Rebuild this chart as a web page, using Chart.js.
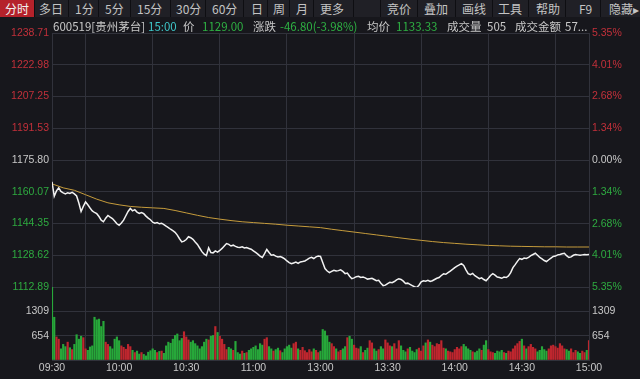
<!DOCTYPE html>
<html><head><meta charset="utf-8">
<script src="https://cdn.jsdelivr.net/npm/chart.js@4/dist/chart.umd.min.js"></script>
<style>
html,body{margin:0;padding:0;background:#17171c;width:640px;height:379px;overflow:hidden;}
#wrap{position:relative;width:640px;height:379px;}
canvas{position:absolute;left:0;top:0;}
#bar1{position:absolute;left:0;top:0;width:640px;height:17px;background:#202026;font-family:"Noto Sans CJK SC",sans-serif;font-size:12px;color:#c4c4c4;}
#bar1 span{position:absolute;top:0;line-height:17px;white-space:nowrap;}
#bar1 i{position:absolute;top:0;width:1px;height:17px;background:#0e0e12;}
#bar2{position:absolute;left:0;top:17px;width:640px;height:16px;font-family:"Noto Sans CJK SC",sans-serif;font-size:11.5px;color:#c8c8c8;}
#bar2 span{position:absolute;top:0;line-height:18px;white-space:nowrap;}
.g{color:#2eb043;} .c{color:#3ec6c8;}
</style></head>
<body><div id="wrap">
<canvas id="c" width="640" height="379"></canvas>
<div id="bar1">
<span style="left:0;width:34px;background:#b5222b;color:#f2f2f2;text-align:center;">分时</span>
<i style="left:34px"></i><span style="left:39px">多日</span>
<i style="left:68px"></i><span style="left:75px">1分</span>
<i style="left:98px"></i><span style="left:105px">5分</span>
<i style="left:130px"></i><span style="left:137px">15分</span>
<i style="left:170px"></i><span style="left:176px">30分</span>
<i style="left:205px"></i><span style="left:212px">60分</span>
<i style="left:243px"></i><span style="left:251px">日</span>
<i style="left:267px"></i><span style="left:273px">周</span>
<i style="left:289px"></i><span style="left:296px">月</span>
<i style="left:313px"></i><span style="left:320px">更多</span>
<i style="left:353px"></i>
<i style="left:380px"></i><span style="left:387px">竞价</span>
<i style="left:417px"></i><span style="left:424px">叠加</span>
<i style="left:455px"></i><span style="left:462px">画线</span>
<i style="left:492px"></i><span style="left:498px">工具</span>
<i style="left:528px"></i><span style="left:536px">帮助</span>
<i style="left:565px"></i><span style="left:579px">F9</span>
<i style="left:600px"></i><span style="left:609px">隐藏▸</span>
</div>
<div id="bar2">
<span style="left:53px">600519[贵州茅台]</span>
<span class="c" style="left:148px">15:00</span>
<span style="left:183px">价</span>
<span class="g" style="left:202px">1129.00</span>
<span style="left:253px">涨跌</span>
<span class="g" style="left:280px">-46.80(-3.98%)</span>
<span style="left:367px">均价</span>
<span class="g" style="left:396px">1133.33</span>
<span style="left:447px">成交量</span>
<span style="left:487px">505</span>
<span style="left:515px">成交金额</span>
<span style="left:565px">57...</span>
</div>
</div>
<script>
const prevClose = 1175.80;
const timeLabels = ['09:30','10:00','10:30','11:00','13:00','13:30','14:00','14:30','15:00'];
const timeTicks = [0,30,60,90,120,150,180,210,240];
const priceTicks = [1112.89,1128.62,1144.35,1160.07,1175.80,1191.53,1207.25,1222.98,1238.71];
const pctTicks = [-5.35,-4.01,-2.68,-1.34,0,1.34,2.68,4.01,5.35];
const volTicks = [0,654,1309,1963];
const volLabelled = [654,1309];

// minute-by-minute last price (09:30..11:30, 13:00..15:00)
const price = [
1165.0,1157.8,1160.5,1162.0,1160.2,1159.5,1159.0,1159.6,1159.2,1159.8,
1159.0,1158.0,1154.5,1150.3,1152.8,1155.0,1153.6,1152.0,1150.6,1149.8,
1149.2,1147.8,1146.0,1145.2,1147.0,1148.3,1147.5,1146.8,1145.6,1144.2,
1143.5,1144.6,1146.0,1148.2,1150.3,1151.8,1150.6,1151.2,1150.0,1149.3,
1149.8,1149.2,1148.0,1147.0,1146.2,1145.0,1144.5,1144.8,1144.2,1144.5,
1143.8,1143.0,1142.3,1141.5,1140.8,1140.0,1138.6,1136.8,1135.2,1135.6,
1136.4,1137.8,1137.3,1136.5,1135.2,1134.0,1132.2,1130.4,1129.2,1128.5,
1132.3,1130.0,1129.8,1130.8,1130.2,1131.0,1132.0,1133.2,1134.4,1134.0,
1133.2,1133.6,1133.0,1132.6,1132.5,1132.8,1132.2,1132.4,1132.0,1131.6,
1130.8,1130.0,1129.2,1128.2,1127.5,1129.4,1131.5,1130.0,1128.6,1128.8,
1128.2,1127.8,1128.0,1127.5,1126.8,1125.8,1125.0,1124.4,1124.8,1125.2,
1124.6,1125.3,1125.5,1125.8,1126.4,1127.2,1127.6,1127.0,1127.8,1128.2,
1128.0,1125.0,1122.0,1120.8,1120.0,1120.6,1121.2,1120.8,1121.0,1121.4,
1120.6,1119.5,1119.8,1118.2,1117.0,1117.4,1118.0,1118.2,1117.6,1117.8,
1117.4,1116.8,1117.0,1117.2,1116.6,1116.0,1116.2,1114.8,1113.6,1113.8,
1114.6,1115.2,1115.0,1115.6,1116.4,1117.0,1116.6,1115.8,1114.6,1114.8,
1114.2,1113.6,1113.0,1112.6,1113.8,1115.4,1116.0,1115.8,1116.2,1115.6,
1116.0,1116.6,1117.2,1117.6,1118.6,1119.4,1119.2,1120.0,1120.8,1121.6,
1122.5,1123.2,1123.8,1124.5,1123.6,1121.4,1119.5,1119.0,1119.6,1118.5,
1117.8,1117.0,1117.4,1116.6,1116.0,1117.2,1118.6,1119.5,1118.8,1117.8,
1117.6,1117.2,1117.8,1117.6,1118.4,1120.0,1122.5,1124.0,1125.6,1127.0,
1126.6,1127.2,1127.0,1127.6,1128.4,1129.0,1129.6,1128.6,1127.5,1126.8,
1126.0,1125.5,1126.4,1127.2,1128.0,1128.2,1128.8,1129.0,1129.4,1129.6,
1128.4,1127.5,1127.8,1128.6,1129.0,1128.8,1128.6,1128.8,1129.0,1128.9,
1129.0
];

// average price, every 5 minutes
const avgMinutes = [0,5,10,15,20,25,30,35,40,45,50,55,60,65,70,75,80,85,90,95,100,105,110,115,120,
125,130,135,140,145,150,155,160,165,170,175,180,185,190,195,200,205,210,215,220,225,230,235,240];
const avgValues = [1164.0,1162.0,1160.8,1158.6,1156.4,1154.6,1153.6,1152.8,1152.4,1152.1,1151.8,1150.8,1149.6,
1148.4,1147.3,1146.5,1145.8,1145.2,1144.8,1144.4,1144.0,1143.5,1143.1,1142.7,1142.3,
1141.5,1140.8,1140.1,1139.4,1138.7,1138.0,1137.3,1136.6,1136.0,1135.4,1134.9,1134.5,1134.1,
1133.8,1133.5,1133.3,1133.1,1133.0,1132.9,1132.8,1132.8,1132.7,1132.7,1132.7];

// per-minute volume (lots)
const volume = [
2080,1150,620,560,300,420,360,480,330,280,
420,680,560,640,600,300,260,350,380,1150,
1080,1100,900,1040,480,420,360,300,560,620,
520,380,340,290,420,360,260,200,240,160,
200,150,110,210,250,300,260,200,230,240,
180,380,480,450,560,660,700,520,580,760,
620,540,480,520,440,380,300,360,480,560,
540,640,660,900,740,640,560,420,280,340,
300,260,500,200,160,240,180,200,260,300,
340,380,280,440,400,560,600,360,300,240,
280,320,250,200,300,360,400,320,440,480,
300,260,340,250,200,280,220,300,260,200,
240,820,780,650,480,440,360,300,220,260,
300,360,600,640,560,400,320,300,360,200,
260,320,520,460,300,240,280,360,300,540,
460,380,360,440,300,520,380,260,220,300,
340,240,200,280,320,240,380,460,540,480,
400,360,440,420,520,320,300,240,220,200,
280,340,300,360,420,360,300,260,220,200,
240,300,260,400,520,280,220,200,180,240,
220,260,200,180,240,220,300,380,440,500,
560,380,300,360,420,340,300,220,260,360,
280,240,300,380,400,360,320,440,380,300,
280,240,300,200,260,220,180,240,200,260,
520
];

const UP = '#bf262e', DOWN = '#27a83a', FLAT = '#d8d8d8';
const volColors = volume.map((v, i) => {
  const prev = i === 0 ? prevClose : price[i - 1];
  return price[i] > prev ? UP : (price[i] < prev ? DOWN : FLAT);
});

const GRID = '#31323b';
const TXT = '#c8c8c8';
const FONT = {family: '"Liberation Sans", Arial, sans-serif', size: 10.5};

function fixW(w){ return s => { s.width = w; }; }

new Chart(document.getElementById('c'), {
  type: 'line',
  data: {
    datasets: [
      {type:'line', data: price.map((v,i)=>({x:i,y:v})), yAxisID:'y', xAxisID:'x',
       borderColor:'#f2f2f2', borderWidth:1.5, pointRadius:0, tension:0, order:1},
      {type:'line', data: avgMinutes.map((m,k)=>({x:m,y:avgValues[k]})), yAxisID:'y', xAxisID:'x',
       borderColor:'#c69c3c', borderWidth:1, pointRadius:0, tension:0, order:2},
      {type:'bar', data: volume.map((v,i)=>({x:i,y:v})), yAxisID:'yv', xAxisID:'x',
       backgroundColor: volColors, barThickness:1.5, borderWidth:0, order:3}
    ]
  },
  options: {
    responsive:false, maintainAspectRatio:false, animation:false,
    layout:{padding:{top:33,left:0,right:0,bottom:0}},
    plugins:{legend:{display:false}, tooltip:{enabled:false}},
    scales:{
      x:{type:'linear', min:0, max:240, offset:false,
         afterBuildTicks: s => { s.ticks = timeTicks.map(v=>({value:v})); },
         ticks:{color:TXT, font:FONT, padding:2, maxRotation:0, autoSkip:false,
                callback:(v)=>{ const k = timeTicks.indexOf(v); return k>=0 ? timeLabels[k] : ''; }},
         grid:{color:GRID, drawTicks:false, lineWidth:1},
         border:{color:GRID},
         afterFit: s => { s.height = 19; }},
      y:{position:'left', stack:'L', stackWeight:254, weight:1, min:priceTicks[0], max:priceTicks[priceTicks.length-1],
         afterBuildTicks: s => { s.ticks = priceTicks.map(v=>({value:v})); },
         ticks:{font:FONT, padding:3, autoSkip:false,
                color: c => c.tick.value > prevClose + 0.001 ? '#c2303a' : (c.tick.value < prevClose - 0.001 ? '#2eaa40' : TXT),
                callback: v => Number(v).toFixed(2)},
         grid:{color:GRID, drawTicks:false},
         border:{color:GRID},
         afterFit: fixW(52)},
      yv:{position:'left', stack:'L', stackWeight:73, weight:0, min:0, max:volTicks[volTicks.length-1],
         afterBuildTicks: s => { s.ticks = volTicks.map(v=>({value:v})); },
         ticks:{font:FONT, padding:3, autoSkip:false, color:TXT,
                callback: v => volLabelled.includes(v) ? String(v) : ''},
         grid:{color:GRID, drawTicks:false},
         border:{color:GRID},
         afterFit: fixW(52)},
      yr:{position:'right', stack:'R', stackWeight:254, weight:0, min:pctTicks[0], max:pctTicks[pctTicks.length-1],
         afterBuildTicks: s => { s.ticks = pctTicks.map(v=>({value:v})); },
         ticks:{font:FONT, padding:3, autoSkip:false,
                color: c => c.tick.value > 0.001 ? '#c2303a' : (c.tick.value < -0.001 ? '#2eaa40' : TXT),
                callback: v => Math.abs(v).toFixed(2) + '%'},
         grid:{display:false, drawTicks:false},
         border:{color:GRID},
         afterFit: fixW(51)},
      yvr:{position:'right', stack:'R', stackWeight:73, weight:1, min:0, max:volTicks[volTicks.length-1],
         afterBuildTicks: s => { s.ticks = volTicks.map(v=>({value:v})); },
         ticks:{font:FONT, padding:3, autoSkip:false, color:TXT,
                callback: v => volLabelled.includes(v) ? String(v) : ''},
         grid:{display:false, drawTicks:false},
         border:{color:GRID},
         afterFit: fixW(51)}
    }
  }
});
</script>
</body></html>
